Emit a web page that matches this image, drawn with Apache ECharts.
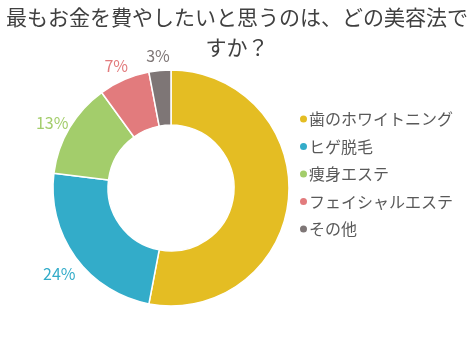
<!DOCTYPE html>
<html>
<head>
<meta charset="utf-8">
<script src="https://cdn.jsdelivr.net/npm/echarts@6/dist/echarts.min.js"></script>
<style>
html, body { margin: 0; padding: 0; background: #fff; }
#chart { width: 474px; height: 351px; }
</style>
</head>
<body>
<div id="chart"></div>
<script>
var categories = ['歯のホワイトニング', 'ヒゲ脱毛', '痩身エステ', 'フェイシャルエステ', 'その他'];
var values = [53, 24, 13, 7, 3];
var colors = ['#E4BD23', '#33ACC9', '#A3CD6B', '#E27B7D', '#7E7676'];

var chart = echarts.init(document.getElementById('chart'));
var font = '"Noto Sans CJK JP", "Noto Sans", sans-serif';
var cx = 171, cy = 188, rOut = 118;

var total = 0;
for (var k = 0; k < values.length; k++) total += values[k];

var pieData = [];
for (var i = 0; i < categories.length; i++) {
    pieData.push({
        name: categories[i],
        value: values[i],
        label: {
            show: i > 0,
            color: colors[i]
        }
    });
}

// put each % label centred just outside the ring, on the slice's mid angle
function placeLabel(params) {
    var idx = params.dataIndex;
    var cum = 0;
    for (var j = 0; j < idx; j++) cum += values[j];
    var a = (cum + values[idx] / 2) / total * Math.PI * 2;
    var r = rOut + 20;
    return {
        x: cx + r * Math.sin(a),
        y: cy - r * Math.cos(a) + 5,
        align: 'center',
        verticalAlign: 'middle'
    };
}

var option = {
    color: colors,
    title: {
        text: '最もお金を費やしたいと思うのは、どの美容法で\nすか？',
        left: 'center',
        top: -3,
        textStyle: {
            fontFamily: font,
            fontSize: 21,
            fontWeight: 'normal',
            color: '#404040',
            lineHeight: 30
        }
    },
    legend: {
        orient: 'vertical',
        left: 293,
        top: 106,
        itemWidth: 9,
        itemHeight: 9,
        itemGap: 11.5,
        icon: 'circle',
        textStyle: {
            fontFamily: font,
            fontSize: 16,
            color: '#595959',
            padding: [0, 0, 0, -4]
        },
        data: categories
    },
    series: [
        {
            type: 'pie',
            center: [cx, cy],
            radius: [63, rOut],
            startAngle: 90,
            clockwise: true,
            avoidLabelOverlap: false,
            itemStyle: {
                borderColor: '#fff',
                borderWidth: 1.5
            },
            label: {
                position: 'outside',
                formatter: '{d}%',
                fontFamily: font,
                fontSize: 16
            },
            labelLine: {
                show: false
            },
            labelLayout: placeLabel,
            data: pieData
        }
    ]
};

chart.setOption(option);
</script>
</body>
</html>
